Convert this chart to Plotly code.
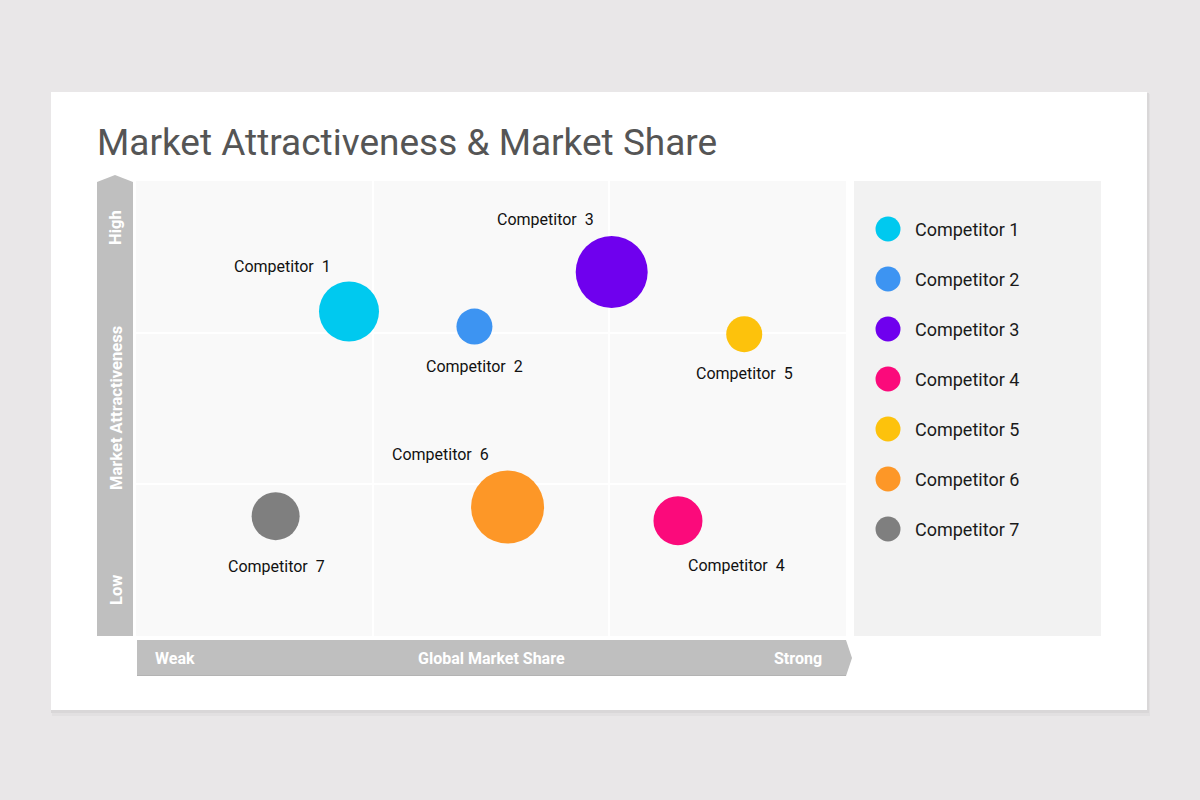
import plotly.graph_objects as go

# ---------------- data ----------------
competitors = ["Competitor 1", "Competitor 2", "Competitor 3", "Competitor 4",
               "Competitor 5", "Competitor 6", "Competitor 7"]
market_share = [0.90, 1.43, 2.01, 2.29, 2.57, 1.57, 0.59]      # 0 (weak) .. 3 (strong)
attractiveness = [2.14, 2.04, 2.40, 0.76, 1.99, 0.85, 0.79]    # 0 (low) .. 3 (high)
bubble_size = [60, 36, 72, 49, 36, 73, 48]
colors = ["#00c9ef", "#3d94f2", "#6f00ee", "#fb0a7b", "#fdc20c", "#fd9727", "#7f7f7f"]

title_text = "Market Attractiveness & Market Share"
x_labels = ["Weak", "Global Market Share", "Strong"]
y_labels = ["High", "Market Attractiveness", "Low"]

# label offsets (px) relative to bubble centre: (dx right, dy down)
label_offsets = [(-67, -45), (0, 40), (-66, -53), (59, 45), (0, 39), (-67, -53), (1, 50)]

W, H = 1200, 800
def px(x): return x / W
def py(y): return 1 - y / H

FONT = "Roboto, 'Noto Sans', Arial, sans-serif"
BAR = "#bfbfbf"

fig = go.Figure()

# bubbles
fig.add_trace(go.Scatter(
    x=market_share, y=attractiveness, mode="markers",
    marker=dict(size=bubble_size, sizemode="diameter", color=colors, opacity=1,
                line=dict(width=0)),
    hoverinfo="text", text=competitors, showlegend=False,
    xaxis="x", yaxis="y"))

# custom legend (drawn on its own axes)
leg_idx = list(range(len(competitors)))
fig.add_trace(go.Scatter(
    x=[0.1377] * len(competitors), y=leg_idx, mode="markers",
    marker=dict(size=25, color=colors, line=dict(width=0)),
    hoverinfo="skip", showlegend=False, xaxis="x2", yaxis="y2"))

annotations = []
for name, xv, yv, (dx, dy) in zip(competitors, market_share, attractiveness, label_offsets):
    annotations.append(dict(
        x=xv, y=yv, xref="x", yref="y", text=name.replace(" ", "\u00a0\u00a0"),
        showarrow=False, xshift=dx, yshift=-dy,
        font=dict(family=FONT, size=16, color="#111111"),
        xanchor="center", yanchor="middle"))

for i, name in enumerate(competitors):
    annotations.append(dict(
        x=(913 - 854) / 247, y=i, xref="x2", yref="y2", text=name,
        showarrow=False, xanchor="left", yanchor="middle",
        font=dict(family=FONT, size=18, color="#1a1a1a")))

# title
annotations.append(dict(
    x=px(95), y=py(142), xref="paper", yref="paper", text=title_text,
    showarrow=False, xanchor="left", yanchor="middle",
    font=dict(family=FONT, size=37, color="#555555")))

# x-bar labels
annotations.append(dict(x=px(153), y=py(658), xref="paper", yref="paper",
                        text="<b>%s</b>" % x_labels[0], showarrow=False,
                        xanchor="left", yanchor="middle",
                        font=dict(family=FONT, size=16, color="white")))
annotations.append(dict(x=px(491), y=py(658), xref="paper", yref="paper",
                        text="<b>%s</b>" % x_labels[1], showarrow=False,
                        xanchor="center", yanchor="middle",
                        font=dict(family=FONT, size=16, color="white")))
annotations.append(dict(x=px(824), y=py(658), xref="paper", yref="paper",
                        text="<b>%s</b>" % x_labels[2], showarrow=False,
                        xanchor="right", yanchor="middle",
                        font=dict(family=FONT, size=16, color="white")))
# y-bar labels
for txt, yy in zip(y_labels, [228, 408, 590]):
    annotations.append(dict(x=px(116), y=py(yy), xref="paper", yref="paper",
                            text="<b>%s</b>" % txt, showarrow=False, textangle=-90,
                            xanchor="center", yanchor="middle",
                            font=dict(family=FONT, size=16.5, color="white")))

shapes = [
    # card shadow (soft)
    dict(type="rect", xref="paper", yref="paper", x0=px(52), x1=px(1150), y0=py(716), y1=py(94),
         fillcolor="#e2e0e1", line=dict(width=0), layer="below"),
    dict(type="rect", xref="paper", yref="paper", x0=px(51), x1=px(1149), y0=py(713), y1=py(93),
         fillcolor="#d9d7d8", line=dict(width=0), layer="below"),
    # card
    dict(type="rect", xref="paper", yref="paper", x0=px(51), x1=px(1147), y0=py(710), y1=py(92),
         fillcolor="white", line=dict(width=0), layer="below"),
    # plot area background
    dict(type="rect", xref="paper", yref="paper", x0=px(136), x1=px(846), y0=py(636), y1=py(181),
         fillcolor="#f9f9f9", line=dict(width=0), layer="below"),
    # legend panel
    dict(type="rect", xref="paper", yref="paper", x0=px(854), x1=px(1101), y0=py(636), y1=py(181),
         fillcolor="#f2f2f2", line=dict(width=0), layer="below"),
    # y arrow bar
    dict(type="path", xref="paper", yref="paper", layer="below",
         path="M %f %f L %f %f L %f %f L %f %f L %f %f Z" % (
             px(97), py(182), px(115), py(175), px(133), py(182), px(133), py(636), px(97), py(636)),
         fillcolor=BAR, line=dict(width=0)),
    # x arrow bar
    dict(type="path", xref="paper", yref="paper", layer="below",
         path="M %f %f L %f %f L %f %f L %f %f L %f %f Z" % (
             px(137), py(640), px(846), py(640), px(852), py(658), px(846), py(676), px(137), py(676)),
         fillcolor=BAR, line=dict(width=0)),
    dict(type="line", xref="paper", yref="paper", layer="below",
         x0=px(137), x1=px(846), y0=py(675.5), y1=py(675.5), line=dict(color="#b3b3b3", width=1)),
]

ax_common = dict(showticklabels=False, ticks="", zeroline=False, showline=False, fixedrange=True)

fig.update_layout(
    width=W, height=H, autosize=False,
    margin=dict(l=0, r=0, t=0, b=0),
    paper_bgcolor="#e9e7e8", plot_bgcolor="rgba(0,0,0,0)",
    xaxis=dict(domain=[px(136), px(846)], range=[0, 3], tickvals=[1, 2],
               showgrid=True, gridcolor="white", gridwidth=2, **ax_common),
    yaxis=dict(domain=[py(636), py(181)], range=[0, 3], tickvals=[1, 2],
               showgrid=True, gridcolor="white", gridwidth=2, **ax_common),
    xaxis2=dict(domain=[px(854), px(1101)], range=[0, 1], showgrid=False, anchor="y2", **ax_common),
    yaxis2=dict(domain=[py(636), py(181)], range=[8.14, -0.96], showgrid=False, anchor="x2", **ax_common),
    shapes=shapes, annotations=annotations, showlegend=False,
    hovermode="closest",
)

fig.write_html("out.html", config={"displayModeBar": False},
               post_script="document.body.style.margin='0';document.body.style.overflow='hidden';")
